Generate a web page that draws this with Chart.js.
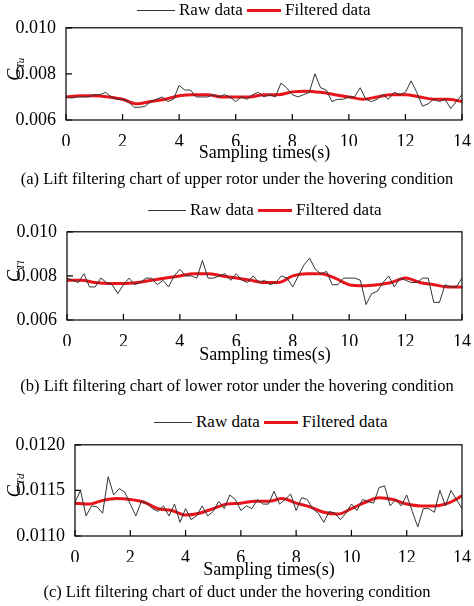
<!DOCTYPE html>
<html>
<head>
<meta charset="utf-8">
<script src="https://cdn.jsdelivr.net/npm/chart.js@4.4.0/dist/chart.umd.min.js"></script>
<style>
  body { margin: 0; width: 474px; height: 606px; background: #fff; position: relative; overflow: hidden;
         font-family: "Liberation Serif", "DejaVu Serif", serif; color: #000; }
  .abs { position: absolute; white-space: nowrap; }
  .cap { font-size: 16.5px; left: 0; width: 474px; text-align: center; }
  .xt { font-size: 18px; text-align: center; }
  .leg { font-size: 17px; display: flex; align-items: center; }
  .leg span.l { display: inline-block; width: 38px; margin: 0 4px 0 0; }
  .yl { font-size: 18px; transform: rotate(-90deg); transform-origin: center; font-style: italic; }
  .yl sub { font-size: 11px; }
</style>
</head>
<body>
<div class="abs" style="left:0;top:15px;width:474px;height:131px"><canvas id="ca"></canvas></div>
<div class="abs" style="left:0;top:219px;width:474px;height:127px"><canvas id="cb"></canvas></div>
<div class="abs" style="left:0;top:432px;width:474px;height:130px"><canvas id="cc"></canvas></div>

<div class="abs leg" style="left:137px;top:0px"><span class="l" style="border-top:1px solid #333"></span>Raw data&nbsp;<span class="l" style="border-top:3px solid #e8141b;width:34px"></span>Filtered data</div>
<div class="abs leg" style="left:148px;top:200px"><span class="l" style="border-top:1px solid #333"></span>Raw data&nbsp;<span class="l" style="border-top:3px solid #e8141b;width:34px"></span>Filtered data</div>
<div class="abs leg" style="left:154px;top:412px"><span class="l" style="border-top:1px solid #333"></span>Raw data&nbsp;<span class="l" style="border-top:3px solid #e8141b;width:34px"></span>Filtered data</div>

<div class="abs yl" style="left:-10px;top:58px;width:50px;text-align:center">C<sub>Tu</sub></div>
<div class="abs yl" style="left:-10px;top:260px;width:50px;text-align:center">C<sub>Tl</sub></div>
<div class="abs yl" style="left:-10px;top:474px;width:50px;text-align:center">C<sub>Td</sub></div>

<div class="abs xt" style="left:66px;width:397px;top:142px">Sampling times(s)</div>
<div class="abs xt" style="left:67px;width:396px;top:344px">Sampling times(s)</div>
<div class="abs xt" style="left:75px;width:388px;top:559px">Sampling times(s)</div>

<div class="abs cap" style="top:169px">(a) Lift filtering chart of upper rotor under the hovering condition</div>
<div class="abs cap" style="top:376px">(b) Lift filtering chart of lower rotor under the hovering condition</div>
<div class="abs cap" style="top:582px">(c) Lift filtering chart of duct under the hovering condition</div>

<script>
const rawStep = 0.2;
const filtStep = 0.5;

const rawUpper = [0.0070,0.00695,0.0070,0.0070,0.0070,0.0071,0.0071,0.0072,0.0070,0.0069,0.0069,0.0068,0.00655,0.00655,0.0066,0.0068,0.0069,0.0070,0.0068,0.0069,
  0.0075,0.0073,0.0073,0.0070,0.0070,0.0070,0.0071,0.0070,0.0071,0.0070,0.0068,0.0070,0.0069,0.0071,0.0072,0.0070,0.0071,0.0070,0.0076,0.0074,
  0.0071,0.0070,0.0071,0.0072,0.0080,0.0074,0.0073,0.0068,0.0069,0.0069,0.0070,0.0070,0.0074,0.0069,0.0068,0.0069,0.0071,0.0069,0.0072,0.0071,
  0.0072,0.0077,0.0072,0.0066,0.0067,0.0069,0.0068,0.0069,0.0065,0.0068,0.0071];
const filtUpper = [0.0070,0.00705,0.00705,0.0070,0.0069,0.0067,0.0068,0.0069,0.00705,0.0071,0.0071,0.0070,0.0070,0.0070,0.0071,
  0.0071,0.00722,0.00725,0.0072,0.0071,0.0070,0.0069,0.0070,0.0071,0.0071,0.0070,0.0069,0.0069,0.0068];

const rawLower = [0.0079,0.0078,0.0077,0.0081,0.0075,0.0075,0.0079,0.0077,0.0076,0.0072,0.0076,0.0079,0.0076,0.0077,0.0079,0.0079,0.0076,0.0078,0.0075,0.0080,
  0.0083,0.0080,0.0080,0.0079,0.0087,0.0079,0.0079,0.0080,0.0081,0.0078,0.0081,0.0078,0.0077,0.0080,0.0077,0.0078,0.0076,0.0077,0.0080,0.0079,
  0.0075,0.0080,0.0085,0.0088,0.0083,0.0081,0.0082,0.0076,0.0076,0.0079,0.0079,0.0079,0.0078,0.0067,0.0072,0.0073,0.0077,0.0080,0.0075,0.0079,
  0.0078,0.0077,0.0077,0.0079,0.0079,0.0068,0.0068,0.0076,0.0075,0.0075,0.0079];
const filtLower = [0.0078,0.0078,0.0077,0.00765,0.00765,0.0077,0.0078,0.0079,0.0080,0.0081,0.0081,0.0080,0.0079,0.0078,0.0077,
  0.0077,0.0080,0.0081,0.0081,0.0079,0.0076,0.00755,0.0076,0.0077,0.0079,0.0077,0.0076,0.0075,0.0075];

const rawDuct = [0.01137,0.01150,0.01122,0.01133,0.01132,0.01125,0.01165,0.01145,0.01152,0.01148,0.01135,0.01122,0.01138,0.01136,0.01130,0.01127,0.01133,0.01122,0.01135,0.01115,
  0.01130,0.01118,0.01122,0.01133,0.01122,0.01127,0.01138,0.01130,0.01145,0.01140,0.01128,0.01133,0.01130,0.01140,0.01135,0.01135,0.01149,0.01135,0.01140,0.01146,
  0.01128,0.01142,0.01140,0.01130,0.01125,0.01115,0.01127,0.01125,0.01118,0.01125,0.01135,0.01128,0.01140,0.01138,0.01136,0.01153,0.01155,0.01133,0.01140,0.01133,
  0.01145,0.01127,0.01110,0.01130,0.01130,0.01126,0.01150,0.01133,0.01150,0.01140,0.01130];
const filtDuct = [0.01136,0.01135,0.01139,0.01141,0.01140,0.01137,0.01130,0.01128,0.01123,0.01125,0.01130,0.01135,0.01136,0.01138,0.01138,
  0.01141,0.01136,0.01132,0.01126,0.01124,0.01130,0.01137,0.01142,0.01140,0.01135,0.01133,0.01133,0.01136,0.01144];

const xTicks = [0, 2, 4, 6, 8, 10, 12, 14];

function toPoints(values, step) {
  return values.map((v, i) => ({ x: +(i * step).toFixed(2), y: v }));
}

const frame = {
  id: 'frame',
  afterDraw(chart) {
    const { ctx, chartArea: a, scales } = chart;
    ctx.save();
    ctx.strokeStyle = '#000';
    ctx.lineWidth = 1.2;
    ctx.strokeRect(a.left, a.top, a.right - a.left, a.bottom - a.top);
    ctx.beginPath();
    scales.x.ticks.forEach(t => {
      const px = scales.x.getPixelForValue(t.value);
      ctx.moveTo(px, a.bottom); ctx.lineTo(px, a.bottom - 6);
    });
    scales.y.ticks.forEach(t => {
      const py = scales.y.getPixelForValue(t.value);
      ctx.moveTo(a.left, py); ctx.lineTo(a.left + 6, py);
    });
    ctx.stroke();
    ctx.restore();
  }
};

function makeChart(id, raw, filt, yMin, yMax, yStep, digits, yWidth) {
  const font = { family: '"Liberation Serif", serif', size: 18 };
  return new Chart(document.getElementById(id), {
    type: 'line',
    data: {
      datasets: [
        { label: 'Raw data', data: toPoints(raw, rawStep), borderColor: '#333', borderWidth: 1, pointRadius: 0, tension: 0 },
        { label: 'Filtered data', data: toPoints(filt, filtStep), borderColor: '#e8141b', borderWidth: 3, pointRadius: 0, tension: 0.4, cubicInterpolationMode: 'monotone' }
      ]
    },
    options: {
      responsive: true,
      maintainAspectRatio: false,
      animation: false,
      layout: { padding: { top: 6, right: 11, left: 0, bottom: 0 } },
      plugins: { legend: { display: false }, tooltip: { enabled: false } },
      scales: {
        x: {
          type: 'linear', min: 0, max: 14,
          afterBuildTicks: s => { s.ticks = xTicks.map(v => ({ value: v })); },
          afterFit: s => { s.height = 26; },
          grid: { display: false }, border: { display: false },
          ticks: { color: '#000', font, padding: 3, maxRotation: 0 }
        },
        y: {
          min: yMin, max: yMax,
          afterFit: s => { s.width = yWidth; },
          grid: { display: false }, border: { display: false },
          ticks: { color: '#000', font, stepSize: yStep, padding: 2, callback: v => v.toFixed(digits) }
        }
      }
    },
    plugins: [frame]
  });
}

makeChart('ca', rawUpper, filtUpper, 0.006, 0.010, 0.002, 3, 66);
makeChart('cb', rawLower, filtLower, 0.006, 0.010, 0.002, 3, 67);
makeChart('cc', rawDuct, filtDuct, 0.0110, 0.0120, 0.0005, 4, 75);
</script>
</body>
</html>
